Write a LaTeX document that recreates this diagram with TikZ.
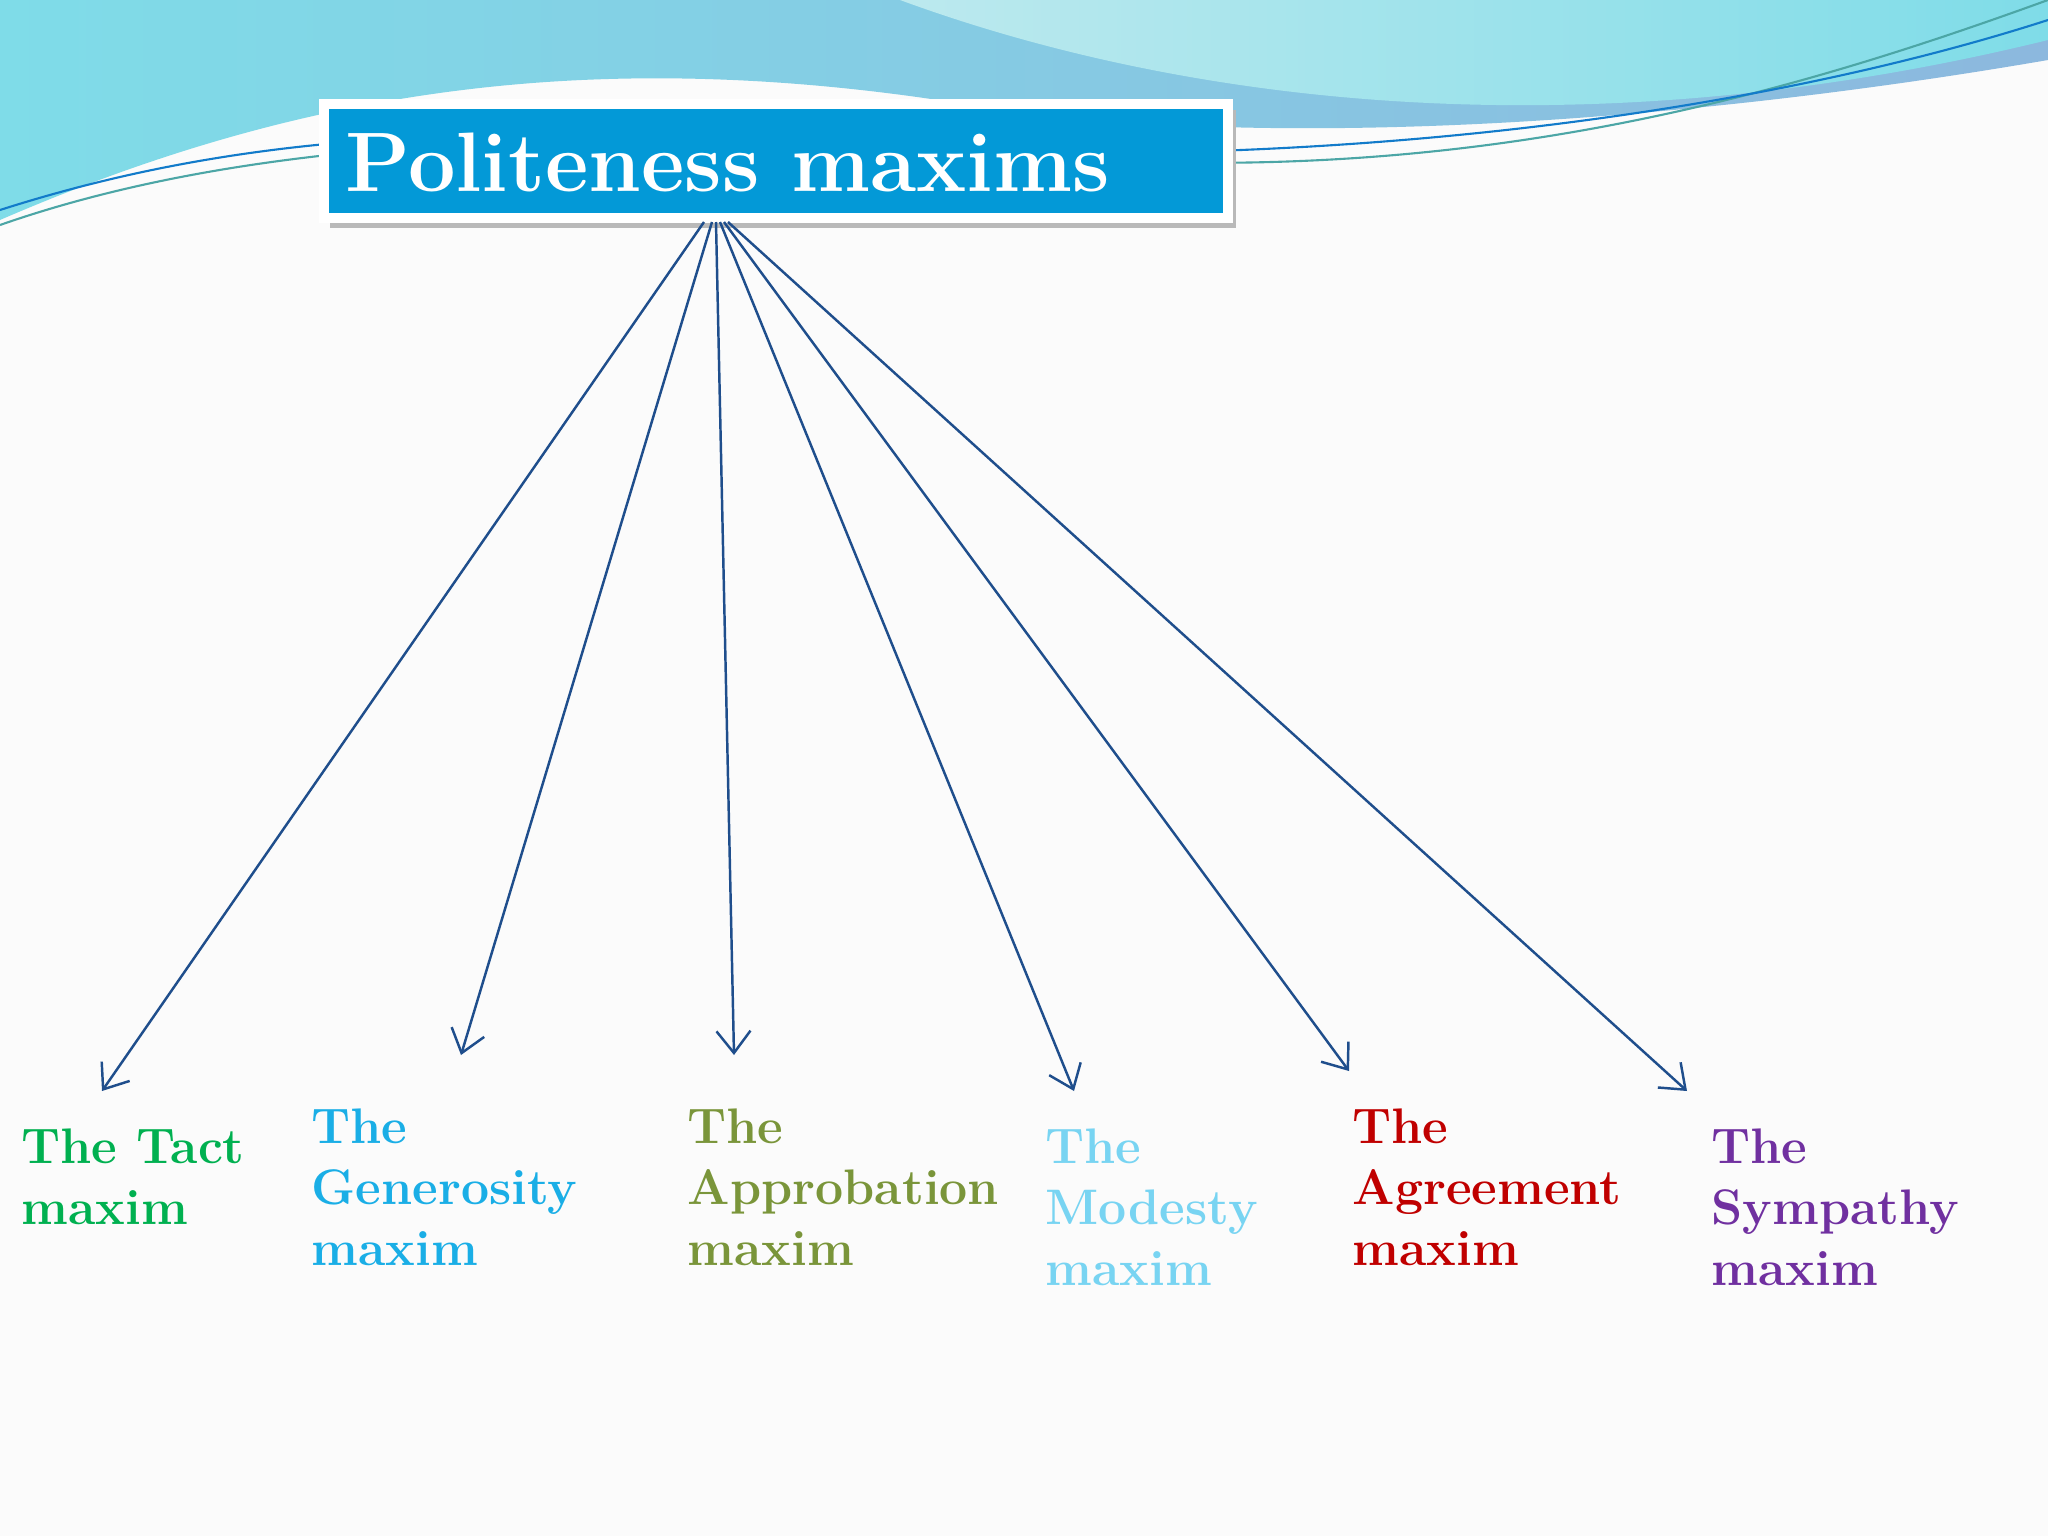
\documentclass[tikz,border=0pt]{standalone}
\usetikzlibrary{arrows.meta}
\definecolor{tact}{HTML}{00B050}
\definecolor{gen}{HTML}{1AAEE6}
\definecolor{appr}{HTML}{7A953A}
\definecolor{mod}{HTML}{78D4F2}
\definecolor{agr}{HTML}{C00000}
\definecolor{sym}{HTML}{7030A0}
\definecolor{boxblue}{HTML}{0399D7}
\definecolor{arr}{HTML}{1F4E8C}
\definecolor{w1}{HTML}{7FDCE8}
\definecolor{w2}{HTML}{8CB8DE}
\definecolor{w3}{HTML}{BCE9EE}
\tikzset{lbl/.style={anchor=north west,inner sep=0,align=left,font=\fontsize{14.2}{17.4}\selectfont\bfseries},
 conn/.style={arr,line width=0.7pt,-{Straight Barb[length=2.2mm,width=3.4mm]}}}
\begin{document}
\begin{tikzpicture}[x=0.01cm,y=-0.01cm]
\useasboundingbox (0,0) rectangle (2048,1536);
\fill[white!97!gray] (0,0) rectangle (2048,1536);
% top waves
\shade[left color=w1,right color=w2] (0,0) -- (0,220) .. controls (300,90) and (600,40) .. (1000,110) .. controls (1300,150) and (1700,120) .. (2048,60) -- (2048,0) -- cycle;
\shade[left color=w3,right color=w1] (900,0) .. controls (1200,110) and (1600,150) .. (2048,40) -- (2048,0) -- cycle;
\draw[teal!70,line width=0.6pt] (0,225) .. controls (300,120) and (700,130) .. (1100,160) .. controls (1500,180) and (1800,90) .. (2048,0);
\draw[cyan!60!blue,line width=0.6pt] (0,210) .. controls (250,130) and (500,120) .. (900,150) .. controls (1400,170) and (1800,100) .. (2048,20);
% title
\fill[gray!55] (330,110) rectangle (1236,228);
\fill[boxblue,draw=white,line width=3pt] (324,104) rectangle (1228,218);
\node[anchor=west,inner sep=0,text=white,font=\fontsize{24}{28}\selectfont\bfseries] at (345,162) {Politeness maxims};
\coordinate (s) at (716,222);
\node[lbl,text=tact] (t1) at (21,1128) {The Tact\\maxim};
\node[lbl,text=gen] (t2) at (311,1108) {The\\Generosity\\maxim};
\node[lbl,text=appr] (t3) at (687,1108) {The\\Approbation\\maxim};
\node[lbl,text=mod] (t4) at (1045,1128) {The\\Modesty\\maxim};
\node[lbl,text=agr] (t5) at (1352,1108) {The\\Agreement\\maxim};
\node[lbl,text=sym] (t6) at (1711,1128) {The\\Sympathy\\maxim};
\coordinate (e1) at (102,1091);
\coordinate (e2) at (461,1055);
\coordinate (e3) at (734,1055);
\coordinate (e4) at (1074,1091);
\coordinate (e5) at (1349,1071);
\coordinate (e6) at (1687,1091);
\foreach \i/\dx in {1/-12,2/-4,3/0,4/4,5/8,6/12}{\draw[conn] ([xshift=\dx*0.01cm]s) -- (e\i);}
\end{tikzpicture}
\end{document}
